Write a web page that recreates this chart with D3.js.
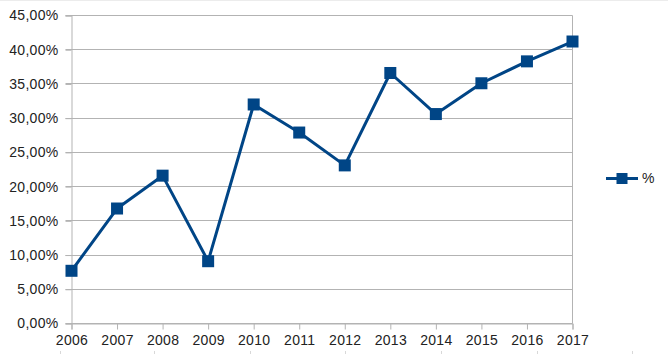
<!DOCTYPE html>
<html>
<head>
<meta charset="utf-8">
<script src="https://cdn.jsdelivr.net/npm/d3@7"></script>
<style>
  html, body { margin: 0; padding: 0; background: #fff; }
  svg { display: block; }
  text { font-family: "Liberation Sans", Arial, sans-serif; font-size: 14px; fill: #222; }
</style>
</head>
<body>
<svg id="chart" width="668" height="356"></svg>
<script>
const years = [2006, 2007, 2008, 2009, 2010, 2011, 2012, 2013, 2014, 2015, 2016, 2017];
const values = [7.7, 16.8, 21.6, 9.1, 32.0, 27.9, 23.1, 36.6, 30.6, 35.1, 38.3, 41.2];
const yTicks = [0, 5, 10, 15, 20, 25, 30, 35, 40, 45];
const seriesName = "%";

const svg = d3.select("#chart");
const W = 668, H = 356;
const pLeft = 71.5, pRight = 572.5, pTop = 15.5, pBottom = 323.5;
const blue = "#004586";
const grid = "#b3b3b3";
const fontFam = "'Liberation Sans', Arial, sans-serif";

const x = d3.scaleLinear().domain([years[0], years[years.length - 1]]).range([pLeft, pRight]);
const y = d3.scaleLinear().domain([0, 45]).range([pBottom, pTop]);

const loc = d3.formatLocale({decimal: ",", thousands: ".", grouping: [3], currency: ["", "€"]});
const fmt = v => loc.format(".2f")(v) + "%";

// faint frame remnants at top and bottom of picture
svg.append("line").attr("x1", 0).attr("x2", W).attr("y1", 0.5).attr("y2", 0.5)
  .attr("stroke", "#ececec").attr("stroke-width", 1);
[60, 154, 250, 345, 441, 537, 632].forEach(px => {
  svg.append("line").attr("x1", px + 0.5).attr("x2", px + 0.5).attr("y1", 351).attr("y2", 354)
    .attr("stroke", "#d8d8d8").attr("stroke-width", 1);
});

// gridlines
svg.append("g").selectAll("line").data(yTicks).join("line")
  .attr("x1", pLeft - 6).attr("x2", pRight)
  .attr("y1", d => Math.round(y(d) - 0.5) + 0.5).attr("y2", d => Math.round(y(d) - 0.5) + 0.5)
  .attr("stroke", grid).attr("stroke-width", 1);

// Y axis
const yAxis = d3.axisLeft(y).tickValues(yTicks).tickFormat(fmt).tickSize(6).tickPadding(7);
const gy = svg.append("g").attr("transform", `translate(${pLeft},0)`).call(yAxis);
gy.select(".domain").attr("stroke", grid);
gy.selectAll(".tick line").attr("stroke", grid);
gy.selectAll(".tick text").attr("fill", "#222").style("font-size", "14px")
  .style("font-family", fontFam).style("letter-spacing", "0.3px");

// right border
svg.append("line").attr("x1", pRight).attr("x2", pRight).attr("y1", pTop).attr("y2", pBottom)
  .attr("stroke", grid);

// X axis
const xAxis = d3.axisBottom(x).tickValues(years).tickFormat(d3.format("d")).tickSize(6).tickPadding(5.5);
const gx = svg.append("g").attr("transform", `translate(0,${pBottom})`).call(xAxis);
gx.select(".domain").attr("stroke", grid);
gx.selectAll(".tick line").attr("stroke", grid);
gx.selectAll(".tick text").attr("fill", "#222").style("font-size", "14px")
  .style("font-family", fontFam).style("letter-spacing", "0.3px");

// line
const line = d3.line().x((d, i) => x(years[i])).y(d => y(d));
svg.append("path").datum(values).attr("d", line)
  .attr("fill", "none").attr("stroke", blue).attr("stroke-width", 3).attr("stroke-linejoin", "round");

// markers
const ms = 12;
svg.append("g").selectAll("rect").data(values).join("rect")
  .attr("x", (d, i) => x(years[i]) - ms / 2).attr("y", d => y(d) - ms / 2)
  .attr("width", ms).attr("height", ms).attr("fill", blue);

// legend
const lg = svg.append("g").attr("transform", "translate(606,178.5)");
lg.append("line").attr("x1", 0).attr("x2", 32).attr("y1", 0).attr("y2", 0)
  .attr("stroke", blue).attr("stroke-width", 3);
lg.append("rect").attr("x", 16 - 5.5).attr("y", -5.5).attr("width", 11).attr("height", 11).attr("fill", blue);
lg.append("text").attr("x", 36).attr("y", 0).attr("dy", "0.35em").style("font-size", "14px").text(seriesName);
</script>
</body>
</html>
